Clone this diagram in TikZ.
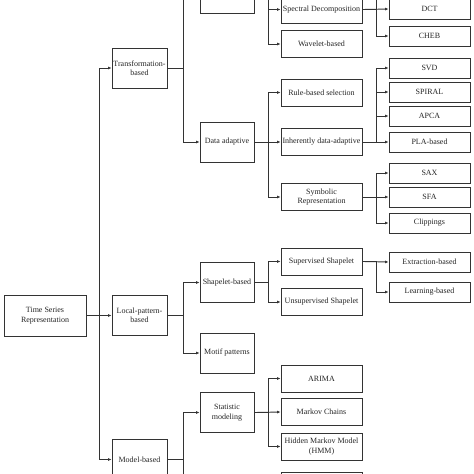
\documentclass[tikz,border=0pt]{standalone}
\usepackage{fontspec}
\setmainfont{Liberation Serif}
\usetikzlibrary{arrows.meta}
\begin{document}
\begin{tikzpicture}[x=1pt,y=-1pt,
  box/.style={draw=black!80,line width=0.9pt,inner sep=0pt,align=center,font=\fontsize{8}{9.5}\selectfont,text=black!85},
  wa/.style={box,minimum width=82pt,minimum height=41pt},
  wb/.style={box,minimum width=55pt,minimum height=40pt},
  wc/.style={box,minimum width=54pt,minimum height=40pt},
  wd/.style={box,minimum width=81pt,minimum height=27pt},
  we/.style={box,minimum width=81pt,minimum height=20pt},
  arr/.style={draw=black!80,line width=0.9pt,-{Latex[length=3.5pt,width=3pt]}},
  ln/.style={draw=black!80,line width=0.9pt}]
\useasboundingbox (0,0) rectangle (474,474);
\fill[white] (0,0) rectangle (474,474);
\clip (0,0) rectangle (474,474);
% column 1
\node[wa] (tsr) at (45,315.5) {Time Series\\Representation};
% column 2
\node[wb] (trans) at (139.5,68) {Transformation-\\based};
\node[wb] (local) at (139.5,315.5) {Local-pattern-\\based};
\node[wb] (model) at (139.5,459.5) {Model-based};
% column 3
\node[wc] (nda) at (227,-7) {};
\node[wc] (da) at (227,142) {Data adaptive};
\node[wc] (shp) at (227,282.5) {Shapelet-based};
\node[wc] (motif) at (227,353) {Motif patterns};
\node[wc] (stat) at (227,412.5) {Statistic\\modeling};
\node[wc] (c3x) at (227,500) {};
% column 4
\node[wd] (spec) at (321.5,9.5) {Spectral Decomposition};
\node[wd] (wav) at (321.5,44) {Wavelet-based};
\node[wd] (rule) at (321.5,92.5) {Rule-based selection};
\node[wd] (inh) at (321.5,142) {Inherently data-adaptive};
\node[wd] (sym) at (321.5,197) {Symbolic\\Representation};
\node[wd] (sup) at (321.5,261.5) {Supervised Shapelet};
\node[wd] (uns) at (321.5,302) {Unsupervised Shapelet};
\node[wd] (arima) at (321.5,378.5) {ARIMA};
\node[wd] (mc) at (321.5,412) {Markov Chains};
\node[wd] (hmm) at (321.5,446.5) {Hidden Markov Model\\(HMM)};
\node[wd] (c4x) at (321.5,486) {};
% column 5
\node[we] (dft) at (429.5,-15) {};
\node[we] (dct) at (429.5,9) {DCT};
\node[we] (cheb) at (429.5,36) {CHEB};
\node[we] (svd) at (429.5,68) {SVD};
\node[we] (spiral) at (429.5,92) {SPIRAL};
\node[we] (apca) at (429.5,116) {APCA};
\node[we] (pla) at (429.5,142) {PLA-based};
\node[we] (sax) at (429.5,173) {SAX};
\node[we] (sfa) at (429.5,197) {SFA};
\node[we] (clip) at (429.5,223) {Clippings};
\node[we] (ext) at (429.5,262) {Extraction-based};
\node[we] (learn) at (429.5,292) {Learning-based};
\node[we] (c5x) at (429.5,484) {};
% connectors col1 -> col2
\draw[arr] (tsr.east) -- (local.west);
\draw[arr] (tsr.east) -- ++(13,0) |- (trans.west);
\draw[arr] (tsr.east) -- ++(13,0) |- (model.west);
% col2 -> col3
\draw[arr] (trans.east) -- ++(16,0) |- (nda.west);
\draw[arr] (trans.east) -- ++(16,0) |- (da.west);
\draw[arr] (local.east) -- ++(16,0) |- (shp.west);
\draw[arr] (local.east) -- ++(16,0) |- (motif.west);
\draw[arr] (model.east) -- ++(16,0) |- (stat.west);
\draw[arr] (model.east) -- ++(16,0) |- (c3x.west);
% col3 -> col4
\draw[arr] (nda.east) -- ++(14,0) |- (spec.west);
\draw[arr] (nda.east) -- ++(14,0) |- (wav.west);
\draw[arr] (da.east) -- (inh.west);
\draw[arr] (da.east) -- ++(14,0) |- (rule.west);
\draw[arr] (da.east) -- ++(14,0) |- (sym.west);
\draw[arr] (shp.east) -- ++(14,0) |- (sup.west);
\draw[arr] (shp.east) -- ++(14,0) |- (uns.west);
\draw[arr] (stat.east) -- (mc.west);
\draw[arr] (stat.east) -- ++(14,0) |- (arima.west);
\draw[arr] (stat.east) -- ++(14,0) |- (hmm.west);
\draw[arr] (c3x.east) -- ++(14,0) |- (c4x.west);
% col4 -> col5
\draw[arr] (spec.east) -- (dct.west);
\draw[arr] (spec.east) -- ++(14,0) |- (dft.west);
\draw[arr] (spec.east) -- ++(14,0) |- (cheb.west);
\draw[arr] (inh.east) -- (pla.west);
\draw[arr] (inh.east) -- ++(14,0) |- (svd.west);
\draw[arr] (inh.east) -- ++(14,0) |- (spiral.west);
\draw[arr] (inh.east) -- ++(14,0) |- (apca.west);
\draw[arr] (sym.east) -- (sfa.west);
\draw[arr] (sym.east) -- ++(14,0) |- (sax.west);
\draw[arr] (sym.east) -- ++(14,0) |- (clip.west);
\draw[arr] (sup.east) -- (ext.west);
\draw[arr] (sup.east) -- ++(14,0) |- (learn.west);
\draw[arr] (c4x.east) -- (c5x.west);
\end{tikzpicture}
\end{document}
